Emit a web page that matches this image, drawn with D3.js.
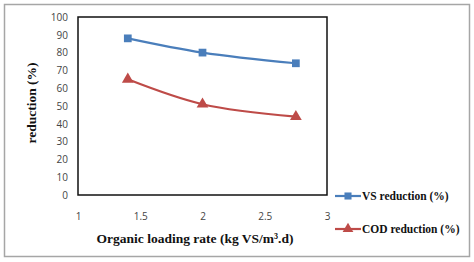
<!DOCTYPE html>
<html lang="en">
  <head>
    <meta charset="UTF-8" />
    <title>Reduction vs organic loading rate</title>
    <style>
      body { margin: 0; background: #fff; }
      svg { display: block; }
      .tick text { font-family: "Open Sans", sans-serif; font-size: 10px; fill: #444; }
      .title { font-family: "Liberation Serif", serif; font-weight: bold; font-size: 13.5px; fill: #111; }
      .legend { font-family: "Liberation Serif", serif; font-weight: bold; font-size: 11.5px; fill: #111; }
    </style>
  </head>
  <body>
    <script src="https://cdn.jsdelivr.net/npm/d3@7"></script>
    <script>
      // values
      var olr = [1.4, 2, 2.75];
      var vsReduction = [88, 80, 74];
      var codReduction = [65, 51, 44];
      var xTicks = [1, 1.5, 2, 2.5, 3];
      var yTicks = [0, 10, 20, 30, 40, 50, 60, 70, 80, 90, 100];

      var W = 474, H = 262;
      var svg = d3.select("body").append("svg").attr("width", W).attr("height", H);

      // outer frame
      svg.append("rect")
        .attr("x", 4.5).attr("y", 4.5).attr("width", 465).attr("height", 252)
        .attr("fill", "none").attr("stroke", "#a6a6a6").attr("stroke-width", 1.5);

      var pL = 78, pR = 327, pT = 17, pB = 195;
      var x = d3.scaleLinear().domain([1, 3]).range([pL, pR]);
      var y = d3.scaleLinear().domain([0, 100]).range([pB, pT]);

      svg.append("g")
        .attr("transform", "translate(0," + pB + ")")
        .call(d3.axisBottom(x).tickValues(xTicks).tickSize(0).tickPadding(18).tickFormat(d3.format("")))
        .call(function(g) { g.select(".domain").remove(); });

      svg.append("g")
        .attr("transform", "translate(" + pL + ",0)")
        .call(d3.axisLeft(y).tickValues(yTicks).tickSize(0).tickPadding(10))
        .call(function(g) { g.select(".domain").remove(); });

      // plot area frame
      svg.append("rect")
        .attr("x", pL).attr("y", pT).attr("width", pR - pL).attr("height", pB - pT)
        .attr("fill", "none").attr("stroke", "#111").attr("stroke-width", 1.5);

      var series = [
        { name: "VS reduction (%)", values: vsReduction, color: "#4a7ebb", shape: d3.symbolSquare },
        { name: "COD reduction (%)", values: codReduction, color: "#be4b48", shape: d3.symbolTriangle }
      ];

      var line = d3.line()
        .x(function(d) { return x(d[0]); })
        .y(function(d) { return y(d[1]); })
        .curve(d3.curveCatmullRom);

      series.forEach(function(s) {
        var pts = olr.map(function(v, i) { return [v, s.values[i]]; });
        svg.append("path").datum(pts)
          .attr("d", line)
          .attr("fill", "none").attr("stroke", s.color).attr("stroke-width", 2.2);
        svg.selectAll(null).data(pts).enter().append("path")
          .attr("d", d3.symbol().type(s.shape).size(60))
          .attr("transform", function(d) { return "translate(" + x(d[0]) + "," + y(d[1]) + ")"; })
          .attr("fill", s.color);
      });

      // legend
      series.forEach(function(s, i) {
        var ly = 196 + i * 33;
        svg.append("line")
          .attr("x1", 335).attr("x2", 361).attr("y1", ly).attr("y2", ly)
          .attr("stroke", s.color).attr("stroke-width", 2.2);
        svg.append("path")
          .attr("d", d3.symbol().type(s.shape).size(50))
          .attr("transform", "translate(348," + ly + ")")
          .attr("fill", s.color);
        svg.append("text").attr("class", "legend")
          .attr("x", 362).attr("y", ly + 4).text(s.name);
      });

      // axis titles
      svg.append("text").attr("class", "title")
        .attr("x", 195).attr("y", 243).attr("text-anchor", "middle")
        .text("Organic loading rate (kg VS/m³.d)");
      svg.append("text").attr("class", "title")
        .attr("transform", "translate(36,103) rotate(-90)").attr("text-anchor", "middle")
        .text("reduction (%)");
    </script>
  </body>
</html>
